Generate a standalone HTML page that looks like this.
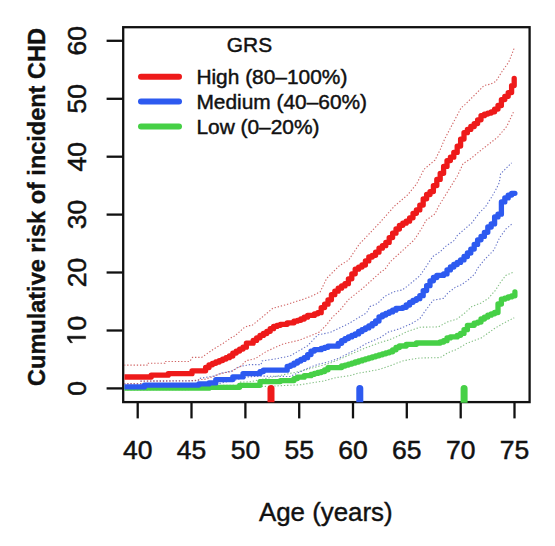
<!DOCTYPE html>
<html><head><meta charset="utf-8"><style>
html,body{margin:0;padding:0;background:#fff;}
svg{display:block;}
text{font-family:"Liberation Sans",sans-serif;fill:#111;}
.tl{font-size:26.5px;stroke:#111;stroke-width:0.5px;}
.lg{font-size:20.9px;stroke:#111;stroke-width:0.45px;}
</style></head><body>
<svg width="555" height="546" viewBox="0 0 555 546">
<rect x="0" y="0" width="555" height="546" fill="#fff"/>
<defs><clipPath id="pc"><rect x="124.4" y="28.4" width="404" height="372.8"/></clipPath></defs>
<g stroke="#111" stroke-width="2.3" fill="none">
<rect x="123.2" y="27.2" width="406.4" height="374.9"/>
</g>
<g stroke="#111" stroke-width="2.3">
<line x1="106.6" y1="388.4" x2="123" y2="388.4"/>
<line x1="106.6" y1="330.5" x2="123" y2="330.5"/>
<line x1="106.6" y1="272.5" x2="123" y2="272.5"/>
<line x1="106.6" y1="214.6" x2="123" y2="214.6"/>
<line x1="106.6" y1="156.7" x2="123" y2="156.7"/>
<line x1="106.6" y1="98.8" x2="123" y2="98.8"/>
<line x1="106.6" y1="40.8" x2="123" y2="40.8"/>
<line x1="137.7" y1="402" x2="137.7" y2="418.4"/>
<line x1="191.5" y1="402" x2="191.5" y2="418.4"/>
<line x1="245.4" y1="402" x2="245.4" y2="418.4"/>
<line x1="299.2" y1="402" x2="299.2" y2="418.4"/>
<line x1="353.0" y1="402" x2="353.0" y2="418.4"/>
<line x1="406.8" y1="402" x2="406.8" y2="418.4"/>
<line x1="460.7" y1="402" x2="460.7" y2="418.4"/>
<line x1="514.5" y1="402" x2="514.5" y2="418.4"/>
</g>
<text transform="translate(85.6,388.4) rotate(-90)" text-anchor="middle" class="tl">0</text>
<g transform="translate(85.6,330.5) rotate(-90)"><path transform="translate(-14.74,0) scale(0.012939,-0.012939)" d="M515 0V1237L197 1010V1180L530 1409H696V0Z" fill="#111" stroke="#111" stroke-width="38.6"/><text x="0" y="0" class="tl">0</text></g>
<text transform="translate(85.6,272.5) rotate(-90)" text-anchor="middle" class="tl">20</text>
<text transform="translate(85.6,214.6) rotate(-90)" text-anchor="middle" class="tl">30</text>
<text transform="translate(85.6,156.7) rotate(-90)" text-anchor="middle" class="tl">40</text>
<text transform="translate(85.6,98.8) rotate(-90)" text-anchor="middle" class="tl">50</text>
<text transform="translate(85.6,40.8) rotate(-90)" text-anchor="middle" class="tl">60</text>
<text x="137.7" y="459.2" text-anchor="middle" class="tl">40</text>
<text x="191.5" y="459.2" text-anchor="middle" class="tl">45</text>
<text x="245.4" y="459.2" text-anchor="middle" class="tl">50</text>
<text x="299.2" y="459.2" text-anchor="middle" class="tl">55</text>
<text x="353.0" y="459.2" text-anchor="middle" class="tl">60</text>
<text x="406.8" y="459.2" text-anchor="middle" class="tl">65</text>
<text x="460.7" y="459.2" text-anchor="middle" class="tl">70</text>
<text x="514.5" y="459.2" text-anchor="middle" class="tl">75</text>
<text transform="translate(45,207) rotate(-90)" text-anchor="middle" style="font-size:23.5px;font-weight:bold;stroke:#111;stroke-width:0.4px">Cumulative risk of incident CHD</text>
<text x="325.8" y="521.3" text-anchor="middle" style="font-size:25.9px;stroke:#111;stroke-width:0.4px">Age (years)</text>
<text x="249.5" y="51.8" text-anchor="middle" class="lg">GRS</text>
<line x1="141" y1="76.7" x2="179" y2="76.7" stroke="#ee1a1a" stroke-width="6" stroke-linecap="round"/>
<line x1="141" y1="101.6" x2="179" y2="101.6" stroke="#2d5af0" stroke-width="6" stroke-linecap="round"/>
<line x1="141" y1="126.4" x2="179" y2="126.4" stroke="#46d046" stroke-width="6" stroke-linecap="round"/>
<text x="196.4" y="84.2" class="lg">High (80&#8211;100%)</text>
<text x="196.4" y="109.2" class="lg">Medium (40&#8211;60%)</text>
<text x="196.4" y="134.2" class="lg">Low (0&#8211;20%)</text>
<g clip-path="url(#pc)">
<polyline points="124.0,388.0 200.0,387.0 210.0,385.5 238.0,385.3 239.0,382.2 250.0,381.8 299.6,371.4 330.0,363.2 366.6,347.5 379.2,342.8 388.3,340.1 397.5,336.4 406.6,331.8 420.0,327.2 438.3,326.9 447.5,321.9 456.6,319.2 464.0,313.7 471.8,306.6 481.0,303.0 488.3,298.4 495.6,290.1 500.2,282.8 505.7,275.5 514.0,271.8 514.2,272.0" fill="none" stroke="#6cb46c" stroke-width="1.1" stroke-dasharray="1.3 1.9" opacity="0.85"/>
<polyline points="124.0,390.0 200.0,389.5 285.0,385.5 300.0,384.8 322.9,381.1 336.6,377.5 350.0,375.6 357.5,373.3 370.0,371.2 379.2,369.4 392.9,364.8 402.0,361.1 411.2,359.3 420.0,358.0 440.1,357.6 447.5,353.0 456.6,349.4 465.8,343.9 466.6,343.4 481.3,337.9 494.1,328.8 503.3,323.3 514.2,317.8" fill="none" stroke="#6cb46c" stroke-width="1.1" stroke-dasharray="1.3 1.9" opacity="0.85"/>
<polyline points="124.0,383.8 141.0,383.8 141.0,381.0 198.0,380.6 199.0,378.5 213.7,376.1 221.0,373.2 232.0,371.0 237.8,367.3 243.0,365.9 250.0,364.6 261.0,364.6 262.0,360.9 275.0,359.0 290.0,356.0 307.6,345.7 317.9,334.8 330.0,332.5 348.3,323.8 366.6,312.8 370.0,306.5 377.3,303.7 384.7,296.4 393.8,291.8 402.0,290.0 405.6,287.6 416.6,278.5 420.0,275.7 425.5,267.5 432.8,256.5 440.1,251.9 445.6,246.4 454.8,240.0 456.6,236.1 471.3,223.3 471.8,223.0 479.2,213.0 485.6,206.6 492.0,196.5 495.6,190.1 499.3,182.7 500.6,173.8 511.6,162.8" fill="none" stroke="#4a5cc0" stroke-width="1.1" stroke-dasharray="1.3 1.9" opacity="0.85"/>
<polyline points="124.0,388.5 200.0,388.0 248.3,376.9 261.0,376.1 290.0,376.5 301.0,371.4 310.5,367.0 319.3,364.0 330.0,361.6 339.2,358.0 348.3,353.4 357.5,348.8 366.6,343.3 377.6,338.7 379.2,338.3 388.3,332.1 397.5,329.4 404.8,326.6 411.2,323.9 420.0,318.4 425.0,311.2 433.2,300.2 443.3,298.4 447.9,292.9 455.2,287.4 461.6,284.7 469.0,279.2 475.0,273.7 477.3,268.5 484.7,259.4 493.8,250.2 499.3,238.3 505.7,229.2 511.2,224.6 511.6,225.1" fill="none" stroke="#4a5cc0" stroke-width="1.1" stroke-dasharray="1.3 1.9" opacity="0.85"/>
<polyline points="124.0,365.1 147.0,365.1 147.0,363.3 165.0,363.3 165.0,361.5 189.7,361.5 192.5,357.4 201.6,357.4 205.0,355.1 214.2,348.7 223.3,343.2 232.5,336.8 233.0,336.9 235.0,335.8 244.0,327.8 248.3,325.6 251.8,325.6 261.9,317.4 272.9,308.2 286.6,304.6 300.0,300.2 303.7,299.2 312.9,295.5 320.2,291.8 326.6,278.5 339.5,265.6 348.6,260.1 359.6,243.7 363.3,240.0 380.0,222.4 394.7,205.9 407.5,195.0 416.6,184.0 424.0,169.3 435.0,160.1 440.4,149.2 444.7,138.9 461.1,107.8 465.0,104.6 475.3,94.4 484.2,85.4 490.6,84.1 495.8,81.5 502.2,71.3 508.8,62.0 514.2,48.2" fill="none" stroke="#c84848" stroke-width="1.1" stroke-dasharray="1.3 1.9" opacity="0.85"/>
<polyline points="124.0,383.9 141.0,383.9 141.0,381.2 190.0,381.0 200.8,379.6 205.0,379.3 213.7,376.4 221.0,373.5 232.0,371.3 237.8,367.6 241.0,366.0 246.2,360.6 255.0,358.8 266.6,351.3 282.4,344.2 300.0,340.0 303.7,338.5 319.3,332.1 326.6,324.8 332.1,317.5 340.0,310.1 348.6,299.5 362.5,288.5 371.6,280.3 380.8,272.0 385.0,269.3 390.0,262.0 413.0,241.0 415.2,238.5 421.6,228.5 426.2,220.2 435.0,213.8 438.3,206.8 450.1,187.6 457.5,175.7 463.0,163.8 471.2,158.3 480.0,151.0 497.8,137.1 506.9,126.1 514.2,110.5" fill="none" stroke="#c84848" stroke-width="1.1" stroke-dasharray="1.3 1.9" opacity="0.85"/>
<polyline points="124.0,388.2 127.4,388.2 130.8,388.2 134.2,388.2 137.6,388.2 141.0,388.2 144.4,388.2 147.8,388.2 151.2,388.2 154.6,388.2 158.0,388.2 161.4,388.2 164.8,388.2 168.2,388.2 171.6,388.2 175.0,388.2 178.4,388.2 181.8,388.2 185.2,388.2 188.6,388.2 192.0,388.2 195.4,388.2 198.8,388.2 202.2,388.2 205.6,388.2 209.0,388.2 209.0,387.3 212.4,387.3 215.8,387.3 219.2,387.3 222.6,387.3 226.0,387.3 229.4,387.3 232.8,387.3 236.2,387.3 239.6,387.3 239.6,385.3 243.0,385.3 246.4,385.3 249.8,385.3 253.2,385.3 256.6,385.3 260.0,385.3 260.0,381.6 263.4,381.6 266.8,381.6 270.2,381.6 273.6,381.6 277.0,381.6 280.4,381.6 280.4,380.6 283.8,380.6 287.2,380.6 290.6,380.6 294.0,380.6 294.0,378.6 297.4,378.6 297.4,377.2 300.8,377.2 304.2,377.2 304.2,375.7 307.6,375.7 311.0,375.7 311.0,374.3 314.4,374.3 314.4,373.4 317.8,373.4 317.8,372.5 321.2,372.5 321.2,371.6 324.6,371.6 324.6,369.8 328.0,369.8 328.0,367.6 331.4,367.6 334.8,367.6 338.2,367.6 341.6,367.6 341.6,366.0 345.0,366.0 345.0,365.1 348.4,365.1 348.4,364.1 351.8,364.1 351.8,363.1 355.2,363.1 355.2,362.0 358.6,362.0 358.6,360.9 362.0,360.9 362.0,359.8 365.4,359.8 365.4,358.8 368.8,358.8 368.8,357.8 372.2,357.8 372.2,356.8 375.6,356.8 375.6,355.8 379.0,355.8 379.0,354.8 382.4,354.8 382.4,353.8 385.8,353.8 385.8,352.8 389.2,352.8 389.2,351.8 392.6,351.8 392.6,349.8 396.0,349.8 396.0,347.5 399.4,347.5 399.4,346.0 402.8,346.0 406.2,346.0 406.2,344.3 409.6,344.3 413.0,344.3 416.4,344.3 416.4,343.0 419.8,343.0 423.2,343.0 426.6,343.0 430.0,343.0 433.4,343.0 436.8,343.0 440.2,343.0 440.2,342.0 443.6,342.0 443.6,340.7 447.0,340.7 447.0,337.9 450.4,337.9 450.4,336.9 453.8,336.9 457.2,336.9 457.2,335.3 460.6,335.3 460.6,333.4 464.0,333.4 464.0,329.7 467.4,329.7 467.4,325.3 470.8,325.3 474.2,325.3 474.2,323.2 477.6,323.2 477.6,322.1 481.0,322.1 481.0,319.0 484.4,319.0 484.4,317.1 487.8,317.1 487.8,315.2 491.2,315.2 491.2,313.8 494.6,313.8 494.6,312.5 498.0,312.5 498.0,304.0 501.4,304.0 501.4,299.2 504.8,299.2 504.8,298.1 508.2,298.1 508.2,296.9 511.6,296.9 511.6,295.8 514.9,295.8 514.9,292.0" fill="none" stroke="#46d046" stroke-width="5.3" stroke-linejoin="round" stroke-linecap="round"/>
<polyline points="124.0,386.9 127.4,386.9 130.8,386.9 134.2,386.9 137.6,386.9 141.0,386.9 144.4,386.9 144.4,385.1 147.8,385.1 151.2,385.1 154.6,385.1 158.0,385.1 161.4,385.1 164.8,385.1 168.2,385.1 171.6,385.1 175.0,385.1 178.4,385.1 181.8,385.1 185.2,385.1 188.6,385.1 192.0,385.1 195.4,385.1 198.8,385.1 198.8,383.9 202.2,383.9 205.6,383.9 209.0,383.9 209.0,382.9 212.4,382.9 215.8,382.9 215.8,379.6 219.2,379.6 222.6,379.6 226.0,379.6 229.4,379.6 232.8,379.6 232.8,376.9 236.2,376.9 239.6,376.9 243.0,376.9 243.0,373.6 246.4,373.6 249.8,373.6 253.2,373.6 256.6,373.6 260.0,373.6 260.0,371.6 263.4,371.6 263.4,370.2 266.8,370.2 270.2,370.2 273.6,370.2 277.0,370.2 280.4,370.2 283.8,370.2 287.2,370.2 287.2,366.3 290.6,366.3 290.6,365.1 294.0,365.1 294.0,363.1 297.4,363.1 297.4,361.1 300.8,361.1 300.8,359.4 304.2,359.4 304.2,357.7 307.6,357.7 307.6,354.6 311.0,354.6 311.0,351.1 314.4,351.1 314.4,349.7 317.8,349.7 321.2,349.7 321.2,348.4 324.6,348.4 324.6,347.3 328.0,347.3 328.0,346.2 331.4,346.2 334.8,346.2 338.2,346.2 338.2,343.3 341.6,343.3 341.6,340.6 345.0,340.6 345.0,338.6 348.4,338.6 348.4,336.9 351.8,336.9 351.8,335.4 355.2,335.4 355.2,333.9 358.6,333.9 358.6,331.5 362.0,331.5 362.0,329.6 365.4,329.6 365.4,327.9 368.8,327.9 368.8,325.9 372.2,325.9 372.2,323.6 375.6,323.6 375.6,321.0 379.0,321.0 379.0,316.8 382.4,316.8 382.4,315.0 385.8,315.0 385.8,313.3 389.2,313.3 389.2,311.9 392.6,311.9 392.6,310.2 396.0,310.2 396.0,308.3 399.4,308.3 402.8,308.3 402.8,307.3 406.2,307.3 406.2,305.0 409.6,305.0 409.6,302.3 413.0,302.3 413.0,300.3 416.4,300.3 416.4,298.7 419.8,298.7 419.8,295.7 423.2,295.7 423.2,290.6 426.6,290.6 426.6,285.7 430.0,285.7 430.0,280.8 433.4,280.8 433.4,277.5 436.8,277.5 436.8,275.4 440.2,275.4 443.6,275.4 443.6,273.9 447.0,273.9 447.0,269.9 450.4,269.9 450.4,267.0 453.8,267.0 453.8,264.5 457.2,264.5 457.2,262.4 460.6,262.4 460.6,259.9 464.0,259.9 464.0,256.5 467.4,256.5 467.4,253.0 470.8,253.0 470.8,249.1 474.2,249.1 474.2,244.4 477.6,244.4 477.6,239.8 481.0,239.8 481.0,236.4 484.4,236.4 484.4,232.3 487.8,232.3 487.8,227.0 491.2,227.0 491.2,223.9 494.6,223.9 494.6,216.9 498.0,216.9 498.0,214.2 501.4,214.2 501.4,201.9 504.8,201.9 504.8,197.9 508.2,197.9 508.2,195.1 511.6,195.1 511.6,193.3 514.9,193.3" fill="none" stroke="#2d5af0" stroke-width="5.3" stroke-linejoin="round" stroke-linecap="round"/>
<polyline points="124.0,377.0 127.4,377.0 130.8,377.0 134.2,377.0 137.6,377.0 141.0,377.0 144.4,377.0 147.8,377.0 151.2,377.0 151.2,375.2 154.6,375.2 158.0,375.2 161.4,375.2 164.8,375.2 168.2,375.2 168.2,373.7 171.6,373.7 175.0,373.7 178.4,373.7 181.8,373.7 185.2,373.7 188.6,373.7 192.0,373.7 192.0,370.8 195.4,370.8 198.8,370.8 202.2,370.8 205.6,370.8 205.6,367.5 209.0,367.5 209.0,364.8 212.4,364.8 212.4,363.3 215.8,363.3 215.8,362.0 219.2,362.0 219.2,360.6 222.6,360.6 222.6,359.1 226.0,359.1 226.0,357.7 229.4,357.7 229.4,356.0 232.8,356.0 232.8,353.1 236.2,353.1 236.2,351.1 239.6,351.1 239.6,349.1 243.0,349.1 243.0,347.2 246.4,347.2 246.4,343.2 249.8,343.2 253.2,343.2 253.2,340.4 256.6,340.4 256.6,337.8 260.0,337.8 260.0,335.4 263.4,335.4 263.4,333.5 266.8,333.5 266.8,331.3 270.2,331.3 270.2,328.7 273.6,328.7 273.6,326.4 277.0,326.4 277.0,325.3 280.4,325.3 280.4,324.3 283.8,324.3 287.2,324.3 287.2,322.8 290.6,322.8 294.0,322.8 294.0,321.2 297.4,321.2 297.4,320.3 300.8,320.3 300.8,319.0 304.2,319.0 304.2,317.2 307.6,317.2 307.6,315.4 311.0,315.4 314.4,315.4 314.4,313.8 317.8,313.8 317.8,312.7 321.2,312.7 321.2,307.6 324.6,307.6 324.6,304.2 328.0,304.2 328.0,299.8 331.4,299.8 331.4,294.7 334.8,294.7 334.8,291.2 338.2,291.2 338.2,288.2 341.6,288.2 341.6,285.9 345.0,285.9 345.0,283.7 348.4,283.7 348.4,278.8 351.8,278.8 351.8,273.8 355.2,273.8 355.2,269.2 358.6,269.2 358.6,267.1 362.0,267.1 362.0,265.0 365.4,265.0 365.4,260.9 368.8,260.9 368.8,257.0 372.2,257.0 372.2,255.3 375.6,255.3 375.6,252.2 379.0,252.2 379.0,248.2 382.4,248.2 382.4,245.7 385.8,245.7 385.8,242.4 389.2,242.4 389.2,237.6 392.6,237.6 392.6,233.2 396.0,233.2 396.0,229.0 399.4,229.0 399.4,225.3 402.8,225.3 402.8,223.2 406.2,223.2 406.2,221.2 409.6,221.2 409.6,217.8 413.0,217.8 413.0,213.3 416.4,213.3 416.4,209.9 419.8,209.9 419.8,205.1 423.2,205.1 423.2,198.8 426.6,198.8 426.6,194.5 430.0,194.5 430.0,191.6 433.4,191.6 433.4,185.6 436.8,185.6 436.8,179.4 440.2,179.4 440.2,173.3 443.6,173.3 443.6,166.4 447.0,166.4 447.0,160.6 450.4,160.6 450.4,157.2 453.8,157.2 453.8,152.4 457.2,152.4 457.2,146.1 460.6,146.1 460.6,139.1 464.0,139.1 464.0,132.7 467.4,132.7 467.4,129.4 470.8,129.4 470.8,126.5 474.2,126.5 474.2,123.6 477.6,123.6 477.6,119.8 481.0,119.8 481.0,115.7 484.4,115.7 484.4,114.1 487.8,114.1 487.8,113.1 491.2,113.1 491.2,111.8 494.6,111.8 494.6,109.1 498.0,109.1 498.0,105.5 501.4,105.5 501.4,99.6 504.8,99.6 504.8,96.3 508.2,96.3 508.2,92.6 511.6,92.6 511.6,85.6 514.2,85.6 514.2,78.5" fill="none" stroke="#ee1a1a" stroke-width="5.3" stroke-linejoin="round" stroke-linecap="round"/>
</g>
<path d="M267.5,402.3V388.4A3.5,3.5 0 0 1 274.5,388.4V402.3Z" fill="#ee1a1a"/>
<path d="M356.3,402.3V388.4A3.5,3.5 0 0 1 363.3,388.4V402.3Z" fill="#2d5af0"/>
<path d="M460.6,402.8V388.4A3.5,3.5 0 0 1 467.6,388.4V402.8Z" fill="#46d046"/>
</svg>
</body></html>
